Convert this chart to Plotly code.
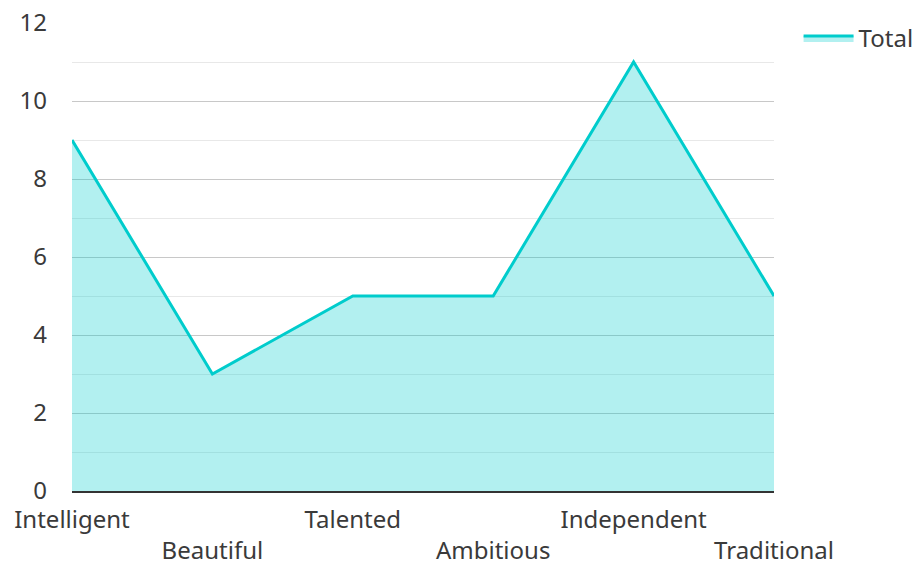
import plotly.graph_objects as go

categories = ["Intelligent", "Beautiful", "Talented", "Ambitious", "Independent", "Traditional"]
values = [9, 3, 5, 5, 11, 5]
y_ticks = [0, 2, 4, 6, 8, 10, 12]

ticktext = [c if i % 2 == 0 else "<br>" + c for i, c in enumerate(categories)]

fig = go.Figure()
fig.add_trace(go.Scatter(
    x=list(range(len(categories))), y=values, name="Total",
    mode="lines", fill="tozeroy",
    line=dict(color="#00CCCC", width=3),
    fillcolor="rgba(0,204,204,0.30)",
    showlegend=True,
))

fig.update_layout(
    width=915, height=563,
    margin=dict(l=72, r=141, t=23, b=72, autoexpand=False),
    paper_bgcolor="white", plot_bgcolor="white",
    font=dict(family="Noto Sans, Open Sans, sans-serif", size=24, color="#3a3a3a"),
    showlegend=True,
    legend=dict(x=1.035, y=1.015, xanchor="left", yanchor="top",
                font=dict(size=24, color="#3a3a3a"), itemwidth=50,
                bgcolor="rgba(0,0,0,0)"),
    hovermode=False,
)
fig.update_xaxes(
    range=[0, len(categories) - 1], automargin=False,
    tickmode="array", tickvals=list(range(len(categories))), ticktext=ticktext,
    showgrid=False, zeroline=False,
    showline=True, linecolor="#333333", linewidth=2,
    ticks="", ticklabelstandoff=6,
)
fig.update_yaxes(
    range=[0, 12], tickmode="array", tickvals=y_ticks, automargin=False,
    showgrid=True, gridcolor="#c8c8c8", gridwidth=1,
    minor=dict(dtick=1, showgrid=True, gridcolor="#e8e8e8", gridwidth=1),
    zeroline=False, showline=False, ticks="",
    ticklabelstandoff=24,
)

fig.write_html("out.html", config={"displayModeBar": False},
               post_script="document.body.style.margin='0';document.body.style.overflow='hidden';")
